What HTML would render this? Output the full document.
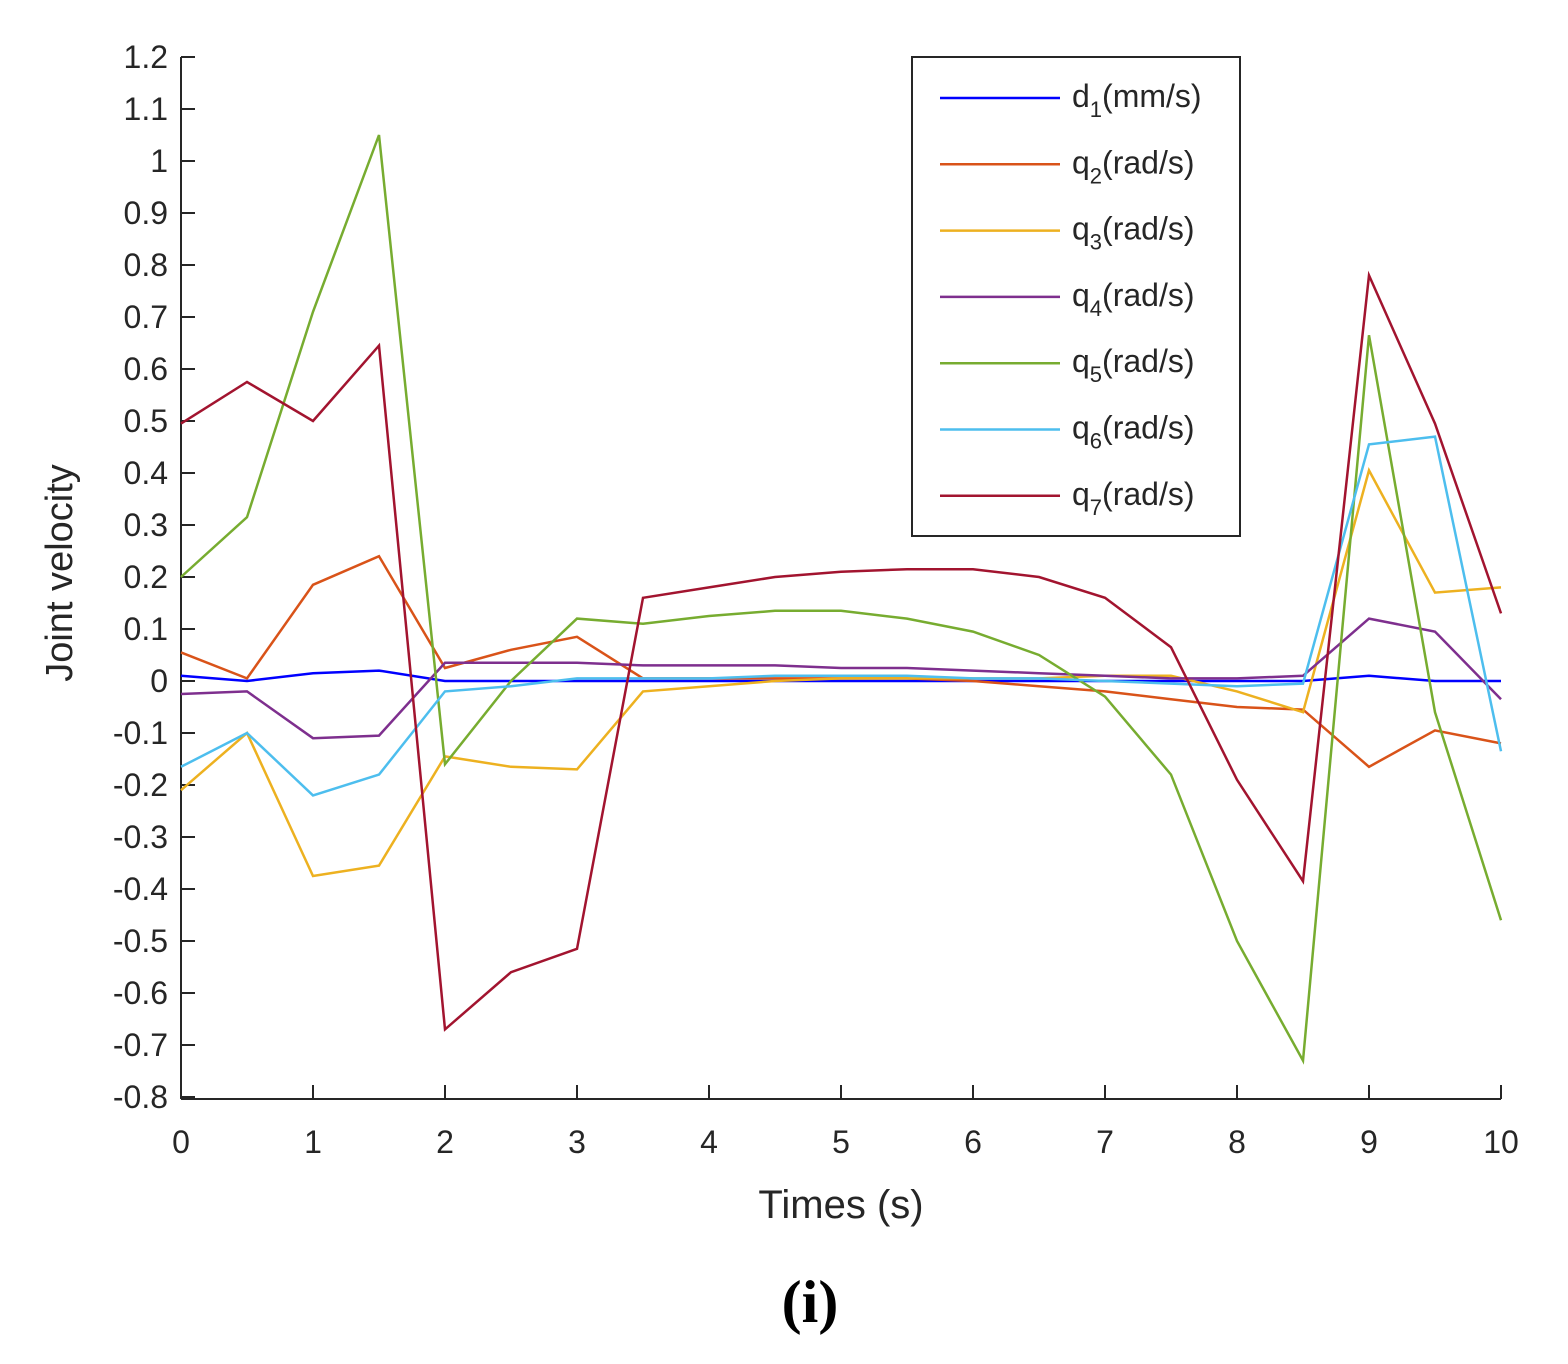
<!DOCTYPE html>
<html><head><style>body{margin:0;background:#fff}svg{display:block}</style></head>
<body>
<svg id="s" width="1568" height="1364" xmlns="http://www.w3.org/2000/svg" font-family="Liberation Sans, sans-serif">
<g id="g"></g>
<text x="72" y="573" font-size="38" fill="#262626" text-anchor="middle" transform="rotate(-90 72 573)">Joint velocity</text>
<text x="841" y="1218" font-size="40" fill="#262626" text-anchor="middle">Times (s)</text>
<text x="810" y="1322" font-size="60" font-weight="bold" font-family="Liberation Serif, serif" text-anchor="middle">(i)</text>
</svg>
<script>
var g=document.getElementById('g'),h='';
function X(t){return 181+132*t}function Y(v){return 681-520*v}
h+='<line x1="181" y1="57" x2="181" y2="1099" stroke="#262626" stroke-width="2"/>';
h+='<line x1="181" y1="1099" x2="1501" y2="1099" stroke="#262626" stroke-width="2"/>';
for(var i=0;i<=20;i++){var v=-0.8+i*0.1,y=Y(v);h+='<line x1="181" y1="'+y+'" x2="195" y2="'+y+'" stroke="#262626" stroke-width="2"/>';
var lab=(Math.round(v*10)/10).toString();h+='<text x="168" y="'+(y+11)+'" font-size="32" fill="#262626" text-anchor="end">'+lab+'</text>';}
for(var i=0;i<=10;i++){var x=X(i);h+='<line x1="'+x+'" y1="1085" x2="'+x+'" y2="1099" stroke="#262626" stroke-width="2"/>';
h+='<text x="'+x+'" y="1153" font-size="32" fill="#262626" text-anchor="middle">'+i+'</text>';}
var S=[
['#0000ff',[0.01,0,0.015,0.02,0,0,0,0,0,0,0,0,0,0,0,0,0,0,0.01,0,0]],
['#d95319',[0.055,0.005,0.185,0.24,0.025,0.06,0.085,0.005,0.005,0.005,0.005,0.005,0,-0.01,-0.02,-0.035,-0.05,-0.055,-0.165,-0.095,-0.12]],
['#edb120',[-0.21,-0.1,-0.375,-0.355,-0.145,-0.165,-0.17,-0.02,-0.01,0,0.005,0.005,0.005,0.005,0.01,0.01,-0.02,-0.06,0.405,0.17,0.18]],
['#7e2f8e',[-0.025,-0.02,-0.11,-0.105,0.035,0.035,0.035,0.03,0.03,0.03,0.025,0.025,0.02,0.015,0.01,0.005,0.005,0.01,0.12,0.095,-0.035]],
['#77ac30',[0.2,0.315,0.71,1.05,-0.16,0,0.12,0.11,0.125,0.135,0.135,0.12,0.095,0.05,-0.03,-0.18,-0.5,-0.73,0.665,-0.06,-0.46]],
['#4dbeee',[-0.165,-0.1,-0.22,-0.18,-0.02,-0.01,0.005,0.005,0.005,0.01,0.01,0.01,0.005,0.005,0,-0.005,-0.01,-0.005,0.455,0.47,-0.135]],
['#a2142f',[0.495,0.575,0.5,0.645,-0.67,-0.56,-0.515,0.16,0.18,0.2,0.21,0.215,0.215,0.2,0.16,0.065,-0.19,-0.385,0.78,0.495,0.13]]];
S.forEach(function(s){var p=s[1].map(function(v,i){return X(i*0.5)+','+Y(v)}).join(' ');
h+='<polyline points="'+p+'" fill="none" stroke="'+s[0]+'" stroke-width="2.5"/>';});
h+='<rect x="912" y="57" width="328" height="479" fill="#fff" stroke="#262626" stroke-width="2"/>';
var L=[['d','1','(mm/s)']];for(var k=2;k<=7;k++)L.push(['q',k,'(rad/s)']);
L.forEach(function(l,i){var y=98+66.3*i;h+='<line x1="940" y1="'+y+'" x2="1060" y2="'+y+'" stroke="'+S[i][0]+'" stroke-width="2.5"/>';
h+='<text x="1072" y="'+(y+9)+'" font-size="32" fill="#262626">'+l[0]+'<tspan font-size="22" dy="10">'+l[1]+'</tspan><tspan dy="-10">'+l[2]+'</tspan></text>';});
g.innerHTML=h;
</script>
</body></html>
